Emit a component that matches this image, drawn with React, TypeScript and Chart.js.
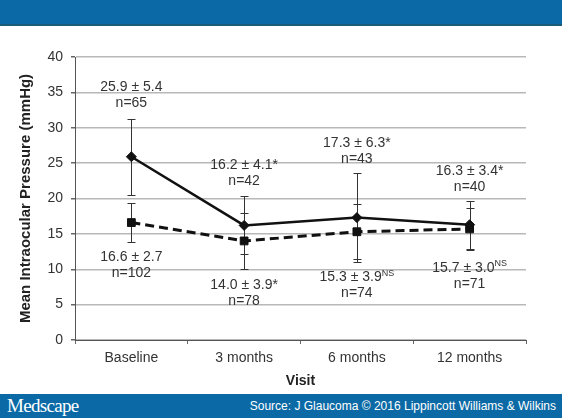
import { useEffect, useRef } from "react";
import { Chart, registerables } from "chart.js";

Chart.register(...registerables);

const visits = ["Baseline", "3 months", "6 months", "12 months"];

// solid line series (top group)
const solidMean = [25.9, 16.2, 17.3, 16.3];
const solidSd = [5.4, 4.1, 6.3, 3.4];
const solidN = [65, 42, 43, 40];
const solidMark = ["", "*", "*", "*"];

// dashed line series (bottom group)
const dashedMean = [16.6, 14.0, 15.3, 15.7];
const dashedSd = [2.7, 3.9, 3.9, 3.0];
const dashedN = [102, 78, 74, 71];
const dashedMark = ["", "*", "NS", "NS"];

// where the stat labels sit, in mmHg
const solidLabelAt = [35.8, 24.7, 27.8, 23.8];
const dashedLabelAt = [11.7, 7.8, 8.9, 10.2];

const yTicks = [0, 5, 10, 15, 20, 25, 30, 35, 40];

const FONT = "'Liberation Sans', Arial, sans-serif";

const statsPlugin = {
  id: "stats",
  beforeDatasetsDraw(chart: any) {
    const { ctx, scales } = chart;
    const x = scales.x;
    const y = scales.y;
    ctx.save();
    ctx.strokeStyle = "#333";
    ctx.lineWidth = 1;
    const groups: [number[], number[]][] = [
      [solidMean, solidSd],
      [dashedMean, dashedSd],
    ];
    groups.forEach(([mean, sd]) => {
      mean.forEach((v, i) => {
        const px = Math.round(x.getPixelForValue(i)) + 0.5;
        const top = Math.round(y.getPixelForValue(v + sd[i])) + 0.5;
        const bot = Math.round(y.getPixelForValue(v - sd[i])) + 0.5;
        ctx.beginPath();
        ctx.moveTo(px, top);
        ctx.lineTo(px, bot);
        ctx.moveTo(px - 4, top);
        ctx.lineTo(px + 4, top);
        ctx.moveTo(px - 4, bot);
        ctx.lineTo(px + 4, bot);
        ctx.stroke();
      });
    });
    ctx.restore();
  },
  afterDatasetsDraw(chart: any) {
    const { ctx, scales } = chart;
    const x = scales.x;
    const y = scales.y;
    ctx.save();
    ctx.fillStyle = "#333";
    ctx.textBaseline = "middle";
    const drawLabel = (i: number, mean: number, sd: number, n: number, mark: string, at: number) => {
      const px = x.getPixelForValue(i);
      const py = y.getPixelForValue(at);
      const main = `${mean.toFixed(1)} ± ${sd.toFixed(1)}` + (mark === "*" ? "*" : "");
      const sup = mark === "NS" ? "NS" : "";
      ctx.font = `14px ${FONT}`;
      const w = ctx.measureText(main).width;
      ctx.font = `9px ${FONT}`;
      const sw = sup ? ctx.measureText(sup).width : 0;
      const start = px - (w + sw) / 2;
      ctx.textAlign = "left";
      ctx.font = `14px ${FONT}`;
      ctx.fillText(main, start, py);
      if (sup) {
        ctx.font = `9px ${FONT}`;
        ctx.fillText(sup, start + w, py - 4);
      }
      ctx.font = `14px ${FONT}`;
      ctx.textAlign = "center";
      ctx.fillText(`n=${n}`, px, py + 16);
    };
    visits.forEach((_, i) => {
      drawLabel(i, solidMean[i], solidSd[i], solidN[i], solidMark[i], solidLabelAt[i]);
      drawLabel(i, dashedMean[i], dashedSd[i], dashedN[i], dashedMark[i], dashedLabelAt[i]);
    });
    ctx.restore();
  },
};

function IopChart() {
  const canvasRef = useRef<HTMLCanvasElement>(null);

  useEffect(() => {
    if (!canvasRef.current) return;
    const chart = new Chart(canvasRef.current, {
      type: "line",
      data: {
        labels: visits,
        datasets: [
          {
            data: solidMean,
            borderColor: "#111",
            backgroundColor: "#111",
            borderWidth: 2.5,
            pointStyle: "rectRot",
            pointRadius: 5,
            pointBorderWidth: 1,
            tension: 0,
          },
          {
            data: dashedMean,
            borderColor: "#111",
            backgroundColor: "#111",
            borderWidth: 3,
            borderDash: [9, 5],
            pointStyle: "rect",
            pointRadius: 5.5,
            pointBorderWidth: 1,
            tension: 0,
          },
        ],
      },
      options: {
        animation: false,
        responsive: true,
        maintainAspectRatio: false,
        layout: { padding: { top: 32, right: 36, left: 13, bottom: 0 } },
        plugins: {
          legend: { display: false },
          tooltip: { enabled: false },
        },
        scales: {
          x: {
            offset: true,
            grid: {
              offset: true,
              drawOnChartArea: false,
              tickLength: 4,
              color: "#666",
            },
            border: { color: "#555" },
            ticks: {
              color: "#333",
              padding: 6,
              font: { family: FONT, size: 14 },
            },
            title: {
              display: true,
              text: "Visit",
              color: "#222",
              font: { family: FONT, size: 14, weight: "bold" },
              padding: { top: 2, bottom: 4 },
            },
            afterFit: (s: any) => {
              s.height = 54;
            },
          },
          y: {
            min: 0,
            max: 40,
            afterBuildTicks: (s: any) => {
              s.ticks = yTicks.map((v) => ({ value: v }));
            },
            grid: {
              color: "#b8b8b8",
              lineWidth: 1.5,
              tickLength: 4,
              tickColor: "#666",
            },
            border: { color: "#555" },
            ticks: {
              color: "#333",
              padding: 8,
              font: { family: FONT, size: 14 },
            },
            title: {
              display: true,
              text: "Mean Intraocular Pressure (mmHg)",
              color: "#222",
              font: { family: FONT, size: 15, weight: "bold" },
              padding: { top: 4, bottom: 4 },
            },
            afterFit: (s: any) => {
              s.width = 62;
            },
          },
        },
      },
      plugins: [statsPlugin],
    });
    return () => chart.destroy();
  }, []);

  return <canvas ref={canvasRef} />;
}

export default function App() {
  useEffect(() => {
    document.body.style.margin = "0";
  }, []);

  return (
    <div
      style={{
        position: "relative",
        width: 562,
        height: 418,
        background: "#fff",
        overflow: "hidden",
        fontFamily: FONT,
      }}
    >
      <div
        style={{
          position: "absolute",
          left: 0,
          top: 0,
          width: 562,
          height: 24,
          background: "#0b6aa6",
          borderBottom: "2px solid #1d5c76",
        }}
      />
      <div style={{ position: "absolute", left: 0, top: 25, width: 562, height: 369 }}>
        <IopChart />
      </div>
      <div
        style={{
          position: "absolute",
          left: 0,
          top: 394,
          width: 562,
          height: 24,
          background: "#0b6aa6",
          color: "#fff",
        }}
      >
        <span
          style={{
            position: "absolute",
            left: 7,
            top: 1,
            fontFamily: "'Liberation Serif', 'DejaVu Serif', serif",
            fontSize: 19,
            letterSpacing: -0.7,
          }}
        >
          Medscape
        </span>
        <span
          style={{
            position: "absolute",
            right: 6,
            top: 5,
            fontSize: 12,
          }}
        >
          Source: J Glaucoma © 2016 Lippincott Williams &amp; Wilkins
        </span>
      </div>
    </div>
  );
}
